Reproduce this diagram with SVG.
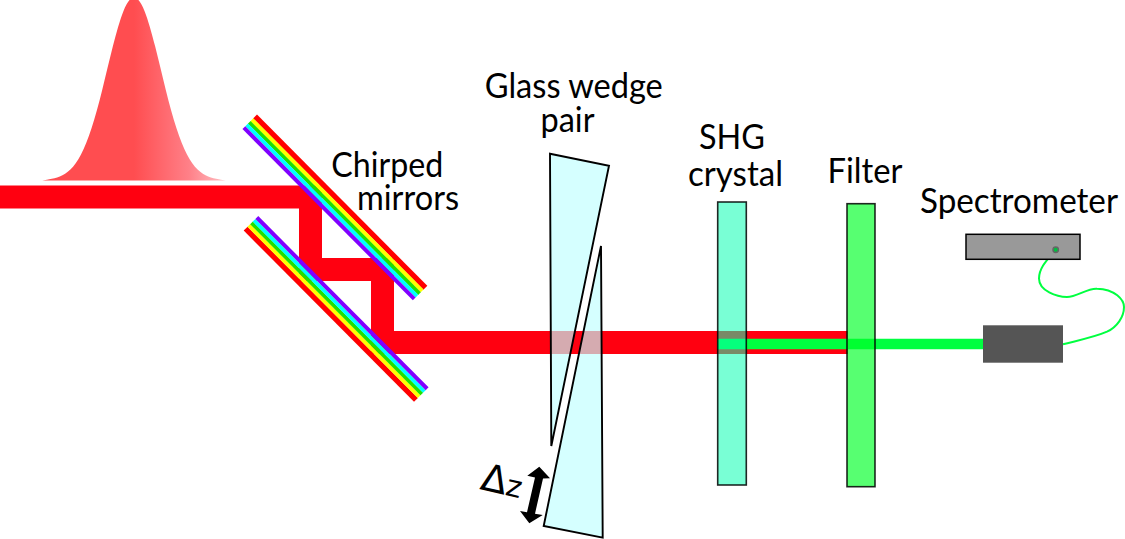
<svg xmlns="http://www.w3.org/2000/svg" width="1125" height="539" viewBox="0 0 1125 539">
<style>
text{font-family:"Lato","Open Sans","Liberation Sans",sans-serif;font-size:35px;fill:#000;text-anchor:middle}
.beam{fill:none;stroke:#ff0010;stroke-width:23;stroke-linejoin:miter}
.green{fill:none;stroke:#00ff40;stroke-width:10.5}
.wedge{fill:rgb(192,255,255);fill-opacity:.67;stroke:#000;stroke-width:1.9;stroke-linejoin:miter}
.plate{stroke:#000;stroke-opacity:.85;stroke-width:1.6}
</style>
<defs>
<linearGradient id="pulse" gradientUnits="userSpaceOnUse" x1="47.400" y1="0" x2="220.600" y2="0">
<stop offset="0" stop-color="#ff4d50"/><stop offset=".5" stop-color="#ff4d50"/><stop offset=".8" stop-color="#ff8088"/><stop offset="1" stop-color="#ffc0c4"/>
</linearGradient>
<g id="stripes">
<rect x="0" y="-10.300" width="241.500" height="5.500" fill="#ff0000"/>
<rect x="0" y="-5" width="241.500" height="4" fill="#ffff00"/>
<rect x="0" y="-1.200" width="241.500" height="3.800" fill="#20e000"/>
<rect x="0" y="2.400" width="241.500" height="3.800" fill="#00ffff"/>
<rect x="0" y="6.200" width="241.500" height="4" fill="#8000ff"/>
</g>
</defs>
<g id="pulse-shape"><path fill="url(#pulse)" transform="translate(134,0) scale(1.060,1) translate(-134,0)" d="M47.400 180.500C50 180.500 50.670 179.810 54 179.300C57.330 178.790 60.670 177.950 64 176.500C67.330 175.050 70.670 172.930 74 169.500C77.330 166.070 80.670 161.270 84 154.500C87.330 147.730 90.670 138.920 94 128C97.330 117.080 100.670 104.050 104 89.900C107.330 75.750 110.670 60.550 114 46.600C117.330 32.650 120.670 20.020 124 11.200C127.330 2.380 130.670 -2.500 134 -2.500C137.330 -2.500 140.670 2.380 144 11.200C147.330 20.020 150.670 32.650 154 46.600C157.330 60.550 160.670 75.750 164 89.900C167.330 104.050 170.670 117.080 174 128C177.330 138.920 180.670 147.730 184 154.500C187.330 161.270 190.670 166.070 194 169.500C197.330 172.930 200.670 175.050 204 176.500C207.330 177.950 210.670 178.790 214 179.300C217.330 179.810 218 180.500 220.600 180.500Z"/></g>
<g id="connectors">
<path class="beam" d="M0 197H310.500V269.500H382.500V342.500H848"/>
<path class="green" d="M717 344H983"/>
<path fill="none" stroke="#00ff40" stroke-width="2" d="M1055.700 249.700C1047 260 1039 268 1039 278.500C1039 291 1057 297 1067 297C1077 297 1087 288 1097 288.700C1115 289 1124 300 1124 307C1124 317 1117 327 1107 331.700C1095 337 1080 340 1063 344.300"/>
</g>
<g id="mirror-1"><use href="#stripes" transform="translate(249.700,121.850) rotate(45.150)"/></g>
<g id="mirror-2"><use href="#stripes" transform="translate(251,223.300) rotate(45.150) scale(1,-1)"/></g>
<g id="wedge-pair">
<polygon class="wedge" points="550,153.700 609,165.700 551.300,446"/>
<polygon class="wedge" points="601,246 602.700,537.700 543.700,526"/>
</g>
<g id="shg-crystal"><rect class="plate" x="717.700" y="202" width="28.600" height="283" fill="rgb(8,255,178)" fill-opacity=".54"/></g>
<g id="filter"><rect class="plate" x="847" y="203.700" width="28" height="283" fill="rgb(0,255,40)" fill-opacity=".66"/></g>
<g id="detector"><rect x="983" y="325.300" width="80" height="37.400" fill="#555"/></g>
<g id="spectrometer">
<rect x="966" y="234.300" width="114" height="25" fill="#999" stroke="#000" stroke-width="1.500"/>
<circle cx="1055.700" cy="249.700" r="2.700" fill="#00c040" stroke="#666" stroke-width="1.500"/>
</g>
<g id="dz-arrow"><polygon fill="#000" points="539.300,466.700 550,478.300 543,478.500 535,513.700 542.700,515 529.300,523.300 520,511 527,512.300 535,477.500 527.300,475.700"/></g>
<g id="labels">
<text x="573.800" y="97.700" textLength="178" lengthAdjust="spacingAndGlyphs">Glass wedge</text>
<text x="567.500" y="131.500" textLength="54" lengthAdjust="spacingAndGlyphs">pair</text>
<text x="387.300" y="176.700" textLength="112" lengthAdjust="spacingAndGlyphs">Chirped</text>
<text x="408" y="210" textLength="102" lengthAdjust="spacingAndGlyphs">mirrors</text>
<text x="732" y="149" textLength="66" lengthAdjust="spacingAndGlyphs">SHG</text>
<text x="735.500" y="186" textLength="95" lengthAdjust="spacingAndGlyphs">crystal</text>
<text x="865" y="183.300" textLength="75" lengthAdjust="spacingAndGlyphs">Filter</text>
<text x="1019" y="213.300" textLength="198" lengthAdjust="spacingAndGlyphs">Spectrometer</text>
<text x="0" y="0" transform="translate(479,489) rotate(13)" style="font-family:'DejaVu Sans',sans-serif;font-size:38px;text-anchor:start">Δ<tspan style="font-size:30px">z</tspan></text>
</g>
</svg>
